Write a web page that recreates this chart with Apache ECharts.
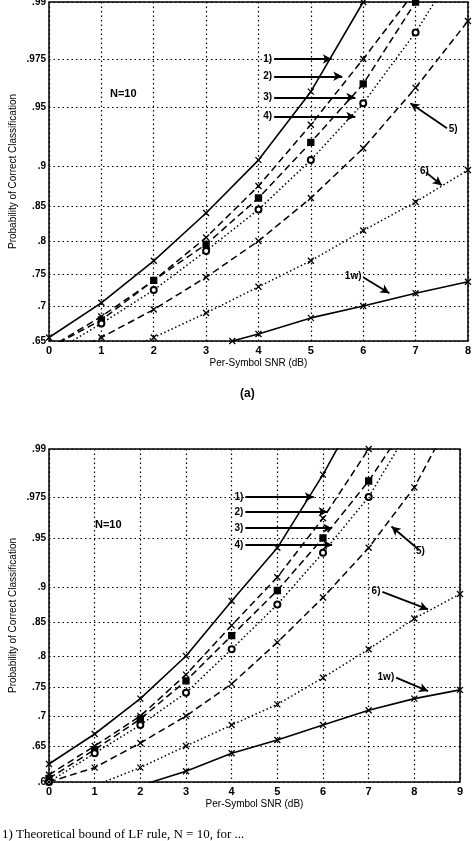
<!DOCTYPE html><html><head><meta charset="utf-8">
<script src="https://cdn.jsdelivr.net/npm/echarts@6/dist/echarts.min.js"></script>
<style>html,body{margin:0;padding:0;background:#fff}#c{width:474px;height:841px}</style></head><body><div id="c"></div>
<script>
// tick labels and their measured axis positions (probability scale)
const ticksA = [.65,.7,.75,.8,.85,.9,.95,.975,.99];
const ticksAPos = [0,35,67,100,135,175,234,282,339];
const tickLabelsA = ['.65','.7','.75','.8','.85','.9','.95','.975','.99'];
const ticksB = [.6,.65,.7,.75,.8,.85,.9,.95,.975,.99];
const ticksBPos = [0,36,66,95,126,160,195,244,285,333];
const tickLabelsB = ['.6','.65','.7','.75','.8','.85','.9','.95','.975','.99'];

// Plot (a) data: [snr, probability]
const a1 = [[0,.655],[1,.705],[2,.77],[3,.84],[4,.905],[5,.958],[6,.99],[6.5,.995]];
const a2 = [[0,.64],[1,.685],[2,.74],[3,.805],[4,.875],[5,.935],[6,.975],[7,.993]];
const a3 = [[0,.64],[1,.68],[2,.74],[3,.795],[4,.86],[5,.92],[6,.962],[7,.99],[7.5,.995]];
const a4 = [[0,.63],[1,.675],[2,.725],[3,.785],[4,.845],[5,.905],[6,.952],[7,.982],[7.5,.993]];
const a5 = [[0,.62],[1,.655],[2,.695],[3,.745],[4,.8],[5,.86],[6,.915],[7,.96],[8,.985]];
const a6 = [[1,.625],[2,.655],[3,.69],[4,.73],[5,.77],[6,.815],[7,.855],[8,.895]];
const a1w = [[3.5,.65],[4,.66],[5,.683],[6,.70],[7,.72],[8,.738]];
// Plot (b) data
const b1 = [[0,.625],[1,.67],[2,.73],[3,.80],[4,.88],[5,.94],[6,.982],[6.5,.995]];
const b2 = [[0,.61],[1,.65],[2,.70],[3,.77],[4,.845],[5,.91],[6,.962],[7,.99],[7.3,.994]];
const b3 = [[0,.605],[1,.645],[2,.695],[3,.76],[4,.83],[5,.895],[6,.95],[7,.98],[7.7,.995]];
const b4 = [[0,.6],[1,.64],[2,.685],[3,.74],[4,.81],[5,.875],[6,.935],[7,.975],[7.8,.994]];
const b5 = [[0,.6],[1,.62],[2,.655],[3,.70],[4,.755],[5,.82],[6,.885],[7,.94],[8,.978],[8.6,.994]];
const b6 = [[1,.595],[2,.62],[3,.65],[4,.685],[5,.72],[6,.765],[7,.81],[8,.855],[9,.89]];
const b1w = [[2,.595],[3,.615],[4,.64],[5,.66],[6,.685],[7,.71],[8,.73],[9,.745]];

function mk(ticks,pos){return function(p){
  let i=0; if(p<=ticks[0]) i=0; else if(p>=ticks[ticks.length-1]) i=ticks.length-2;
  else {while(p>ticks[i+1]) i++;}
  return pos[i]+(p-ticks[i])*(pos[i+1]-pos[i])/(ticks[i+1]-ticks[i]);
};}
const TA=mk(ticksA,ticksAPos), TB=mk(ticksB,ticksBPos);

const FONT='Liberation Sans';
function ser(data,T,idx,type,sym){
  return {type:'line',xAxisIndex:idx,yAxisIndex:idx,data:data.map(d=>[d[0],T(d[1])]),
    symbol:sym,symbolSize:6,showSymbol:true,
    itemStyle:{color:'#000',borderColor:'#000',borderWidth:1.3},
    lineStyle:{color:'#000',width:type==='solid'?1.6:1.5,type:type==='dashed'?[7,4]:type==='dotted'?[1.5,2.5]:'solid'},
    clip:true,silent:true,animation:false};
}
const X='path://M0,0L10,10M10,0L0,10';
function arrows(list,T){
  return list.map(a=>[{coord:[a[0],T(a[1])],label:{show:true,formatter:a[4],position:'start',color:'#000',fontFamily:FONT,fontSize:10,fontWeight:'bold',distance:2},symbol:'none'},{coord:[a[2],T(a[3])],symbol:'arrow'}]);
}
function gridSeries(ticks,labels,T,idx){
  return {type:'line',xAxisIndex:idx,yAxisIndex:idx,data:[],animation:false,
    markLine:{silent:true,animation:false,symbol:'none',
      data:ticks.map((t,i)=>({yAxis:T(t),label:{show:true,position:'start',formatter:labels[i],color:'#000',fontFamily:FONT,fontSize:10,fontWeight:'bold',distance:3},lineStyle:{type:[1.5,3],color:'#000',width:1.2}}))
    }};
}
function arrowSeries(list,T,idx){
  return {type:'line',xAxisIndex:idx,yAxisIndex:idx,data:[],animation:false,
    markLine:{silent:true,animation:false,symbolSize:[7,9],lineStyle:{type:'solid',color:'#000',width:1.8},data:arrows(list,T)}};
}
const arrA=[[4.3,.975,5.4,.975,'1)'],[4.3,.966,5.6,.966,'2)'],[4.3,.955,5.85,.955,'3)'],[4.3,.942,5.85,.942,'4)'],
  [7.6,.932,6.9,.952,'5)'],[7.2,.892,7.5,.876,'6)'],[6.0,.745,6.5,.72,'1w)']];
const arrB=[[4.3,.975,5.8,.975,'1)'],[4.3,.966,6.1,.966,'2)'],[4.3,.956,6.2,.956,'3)'],[4.3,.943,6.2,.943,'4)'],
  [8.1,.938,7.5,.957,'5)'],[7.3,.893,8.3,.868,'6)'],[7.6,.765,8.3,.743,'1w)']];

function xAx(idx,max){return {type:'value',gridIndex:idx,min:0,max:max,interval:1,
  name:'Per-Symbol SNR (dB)',nameLocation:'middle',nameGap:17,nameTextStyle:{fontFamily:FONT,fontSize:10,color:'#000'},
  axisLine:{show:false},axisTick:{show:false},axisLabel:{color:'#000',fontFamily:FONT,fontSize:11,fontWeight:'bold',margin:4},
  splitLine:{show:true,lineStyle:{type:[1.5,3],color:'#000',width:1.2}}};}
function yAx(idx,max){return {type:'value',gridIndex:idx,min:0,max:max,
  name:'Probability of Correct Classification',nameLocation:'middle',nameGap:31,nameTextStyle:{fontFamily:FONT,fontSize:10,color:'#000'},
  axisLine:{show:false},axisTick:{show:false},axisLabel:{show:false},splitLine:{show:false}};}

const option={backgroundColor:'#fff',animation:false,
  grid:[{left:39,right:4,top:2,height:339,show:true,borderColor:'#000',borderWidth:1.5},
        {left:34,right:14,top:449,height:333,show:true,borderColor:'#000',borderWidth:1.5}],
  xAxis:[xAx(0,8),xAx(1,9)],yAxis:[yAx(0,339),yAx(1,333)],
  graphic:[
    {type:'text',left:110,top:88,style:{text:'N=10',font:'bold 11px Liberation Sans',fill:'#000'}},
    {type:'text',left:95,top:519,style:{text:'N=10',font:'bold 11px Liberation Sans',fill:'#000'}},
    {type:'text',left:240,top:388,style:{text:'(a)',font:'bold 12px Liberation Sans',fill:'#000'}},
    {type:'text',left:2,top:828,style:{text:'1) Theoretical bound of LF rule, N = 10, for ...',font:'13px Liberation Serif',fill:'#000'}}
  ],
  series:[
    gridSeries(ticksA,tickLabelsA,TA,0),gridSeries(ticksB,tickLabelsB,TB,1),
    arrowSeries(arrA,TA,0),arrowSeries(arrB,TB,1),
    ser(a1,TA,0,'solid',X),ser(a2,TA,0,'dashed',X),ser(a3,TA,0,'dashed','rect'),ser(a4,TA,0,'dotted','emptyCircle'),
    ser(a5,TA,0,'dashed',X),ser(a6,TA,0,'dotted',X),ser(a1w,TA,0,'solid',X),
    ser(b1,TB,1,'solid',X),ser(b2,TB,1,'dashed',X),ser(b3,TB,1,'dashed','rect'),ser(b4,TB,1,'dotted','emptyCircle'),
    ser(b5,TB,1,'dashed',X),ser(b6,TB,1,'dotted',X),ser(b1w,TB,1,'solid',X)
  ]};
const ch=echarts.init(document.getElementById('c'),null,{renderer:'canvas'});
ch.setOption(option);
</script></body></html>
